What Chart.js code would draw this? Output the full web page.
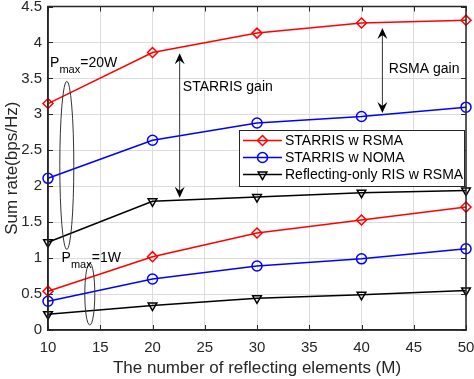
<!DOCTYPE html>
<html>
<head>
<meta charset="utf-8">
<script src="https://cdn.jsdelivr.net/npm/chart.js@4/dist/chart.umd.min.js"></script>
<style>
  html, body { margin: 0; padding: 0; background: #fff; }
  #wrap { width: 474px; height: 379px; }
</style>
</head>
<body>
<div id="wrap"><canvas id="c" width="474" height="379"></canvas></div>
<script>
// ---- Data ----
const mValues = [10, 20, 30, 40, 50];
const rsma20 = [3.15, 3.86, 4.13, 4.27, 4.31];
const noma20 = [2.11, 2.64, 2.88, 2.97, 3.10];
const refl20 = [1.22, 1.79, 1.85, 1.91, 1.94];
const rsma1  = [0.54, 1.02, 1.35, 1.53, 1.71];
const noma1  = [0.40, 0.71, 0.89, 0.99, 1.13];
const refl1  = [0.22, 0.34, 0.44, 0.49, 0.55];
const seriesNames = ['STARRIS w RSMA', 'STARRIS w NOMA', 'Reflecting-only RIS w RSMA'];
const xTicks = [10, 15, 20, 25, 30, 35, 40, 45, 50];
const yTicks = [0, 0.5, 1, 1.5, 2, 2.5, 3, 3.5, 4, 4.5];

const FONT = 'Liberation Sans, Arial, Helvetica, sans-serif';
const AX = '#262626';

function pts(vals) { return mValues.map((m, i) => ({ x: m, y: vals[i] })); }

const styles = [
  { color: '#ff0000', pointStyle: 'rectRot', rotation: 0, radius: 5 },
  { color: '#0000ff', pointStyle: 'circle', rotation: 0, radius: 5 },
  { color: '#000000', pointStyle: 'triangle', rotation: 180, radius: 5 }
];

function ds(label, vals, s, inLegend) {
  return {
    label: label,
    data: pts(vals),
    borderColor: s.color,
    backgroundColor: 'rgba(0,0,0,0)',
    borderWidth: 1.5,
    pointStyle: s.pointStyle,
    rotation: s.rotation,
    pointRadius: s.radius,
    pointBorderWidth: 1.5,
    pointBorderColor: s.color,
    pointBackgroundColor: 'rgba(0,0,0,0)',
    tension: 0,
    clip: false,
    inLegend: inLegend
  };
}

const datasets = [
  ds(seriesNames[0], rsma20, styles[0], true),
  ds(seriesNames[1], noma20, styles[1], true),
  ds(seriesNames[2], refl20, styles[2], true),
  ds(seriesNames[0] + ' (1W)', rsma1, styles[0], false),
  ds(seriesNames[1] + ' (1W)', noma1, styles[1], false),
  ds(seriesNames[2] + ' (1W)', refl1, styles[2], false)
];

function drawArrowHead(ctx, x, y, dir) {
  const L = 11, W = 5, notch = 7;
  ctx.beginPath();
  ctx.moveTo(x, y);
  ctx.lineTo(x - W, y - dir * L);
  ctx.lineTo(x, y - dir * notch);
  ctx.lineTo(x + W, y - dir * L);
  ctx.closePath();
  ctx.fill();
}

function doubleArrow(ctx, x, y1, y2) {
  ctx.save();
  ctx.strokeStyle = '#333';
  ctx.fillStyle = '#000';
  ctx.lineWidth = 1;
  ctx.beginPath();
  ctx.moveTo(x, y1 + 6);
  ctx.lineTo(x, y2 - 6);
  ctx.stroke();
  drawArrowHead(ctx, x, y1, -1);
  drawArrowHead(ctx, x, y2, 1);
  ctx.restore();
}

function ellipse(ctx, cx, cy, rx, ry) {
  ctx.save();
  ctx.strokeStyle = '#333';
  ctx.lineWidth = 1;
  ctx.beginPath();
  ctx.ellipse(cx, cy, rx, ry, 0, 0, Math.PI * 2);
  ctx.stroke();
  ctx.restore();
}

function pmaxLabel(ctx, x, y, tail) {
  ctx.save();
  ctx.fillStyle = '#000';
  ctx.textBaseline = 'alphabetic';
  ctx.textAlign = 'left';
  ctx.font = '14px ' + FONT;
  ctx.fillText('P', x, y);
  let w = ctx.measureText('P').width;
  ctx.font = '11px ' + FONT;
  ctx.fillText('max', x + w, y + 6);
  let w2 = ctx.measureText('max').width;
  ctx.font = '14px ' + FONT;
  ctx.fillText(tail, x + w + w2, y);
  ctx.restore();
}

const overlay = {
  id: 'overlay',
  afterDatasetsDraw(chart) {
    const ctx = chart.ctx;
    const xs = chart.scales.x, ys = chart.scales.y;
    const a = chart.chartArea;
    ctx.save();
    ctx.strokeStyle = AX;
    ctx.lineWidth = 1.5;
    ctx.strokeRect(a.left, a.top, a.right - a.left, a.bottom - a.top);
    ctx.lineWidth = 1;
    const tl = 5;
    ctx.beginPath();
    xTicks.forEach(v => {
      const px = Math.round(xs.getPixelForValue(v)) + 0.5;
      ctx.moveTo(px, a.bottom); ctx.lineTo(px, a.bottom - tl);
      ctx.moveTo(px, a.top); ctx.lineTo(px, a.top + tl);
    });
    yTicks.forEach(v => {
      const py = Math.round(ys.getPixelForValue(v)) + 0.5;
      ctx.moveTo(a.left, py); ctx.lineTo(a.left + tl, py);
      ctx.moveTo(a.right, py); ctx.lineTo(a.right - tl, py);
    });
    ctx.stroke();
    ctx.restore();

    ellipse(ctx, xs.getPixelForValue(11.8), ys.getPixelForValue(2.29), 7, 84);
    ellipse(ctx, xs.getPixelForValue(14.0), ys.getPixelForValue(0.5), 5, 31);
    pmaxLabel(ctx, xs.getPixelForValue(10.2), ys.getPixelForValue(3.66), '=20W');
    pmaxLabel(ctx, xs.getPixelForValue(11.3), ys.getPixelForValue(0.95), '=1W');

    doubleArrow(ctx, xs.getPixelForValue(22.6), ys.getPixelForValue(3.85), ys.getPixelForValue(1.84));
    doubleArrow(ctx, xs.getPixelForValue(42.0), ys.getPixelForValue(4.20), ys.getPixelForValue(3.02));
    ctx.save();
    ctx.fillStyle = '#000';
    ctx.font = '14px ' + FONT;
    ctx.textBaseline = 'alphabetic';
    ctx.fillText('STARRIS gain', xs.getPixelForValue(22.9), ys.getPixelForValue(3.33));
    ctx.fillText('RSMA gain', xs.getPixelForValue(42.6), ys.getPixelForValue(3.57));
    ctx.restore();
  },
  afterDraw(chart) {
    const ctx = chart.ctx;
    const a = chart.chartArea;
    const bx = a.right - 227, by = 130, bw = 225, bh = 56;
    ctx.save();
    ctx.fillStyle = '#fff';
    ctx.fillRect(bx, by, bw, bh);
    ctx.strokeStyle = AX;
    ctx.lineWidth = 1;
    ctx.strokeRect(bx + 0.5, by + 0.5, bw, bh);
    const rows = [by + 10.5, by + 27.5, by + 44.5];
    datasets.filter(d => d.inLegend).forEach((d, i) => {
      const y = rows[i];
      ctx.strokeStyle = d.borderColor;
      ctx.lineWidth = 1.5;
      ctx.beginPath();
      ctx.moveTo(bx + 4, y); ctx.lineTo(bx + 43, y);
      ctx.stroke();
      ctx.fillStyle = 'rgba(0,0,0,0)';
      ctx.strokeStyle = d.borderColor;
      Chart.helpers.drawPoint(ctx, {
        pointStyle: d.pointStyle, rotation: d.rotation, radius: d.pointRadius, borderWidth: 1.5
      }, bx + 23.5, y);
      ctx.fillStyle = '#000';
      ctx.font = '14px ' + FONT;
      ctx.textBaseline = 'middle';
      ctx.textAlign = 'left';
      ctx.fillText(d.label, bx + 46, y + 0.5);
    });
    ctx.restore();
  }
};

new Chart(document.getElementById('c'), {
  type: 'line',
  data: { datasets: datasets },
  options: {
    responsive: false,
    devicePixelRatio: 1,
    animation: false,
    layout: { padding: { left: 0, right: 8, top: 6, bottom: 0 } },
    plugins: { legend: { display: false }, tooltip: { enabled: false } },
    scales: {
      x: {
        type: 'linear', min: 10, max: 50,
        afterBuildTicks(s) { s.ticks = xTicks.map(v => ({ value: v })); },
        afterFit(s) { s.height = 49; s.paddingLeft = 0; s.paddingRight = 0; },
        grid: { color: '#dcdcdc', lineWidth: 1, drawTicks: false },
        border: { color: AX, width: 1.5 },
        ticks: { color: AX, font: { family: FONT, size: 15 }, padding: 9, maxRotation: 0, autoSkip: false,
                 callback: v => String(v) },
        title: { display: true, text: 'The number of reflecting elements (M)', color: AX,
                 font: { family: FONT, size: 17 }, padding: { top: 0, bottom: 0 } }
      },
      y: {
        type: 'linear', min: 0, max: 4.5,
        afterBuildTicks(s) { s.ticks = yTicks.map(v => ({ value: v })); },
        afterFit(s) { s.width = 48; s.paddingTop = 0; s.paddingBottom = 0; },
        grid: { color: '#dcdcdc', lineWidth: 1, drawTicks: false },
        border: { color: AX, width: 1.5 },
        ticks: { color: AX, font: { family: FONT, size: 15 }, padding: 6, autoSkip: false,
                 callback: v => String(v) },
        title: { display: true, text: 'Sum rate(bps/Hz)', color: AX,
                 font: { family: FONT, size: 17 }, padding: { top: 2, bottom: 0 } }
      }
    }
  },
  plugins: [overlay]
});
</script>
</body>
</html>
